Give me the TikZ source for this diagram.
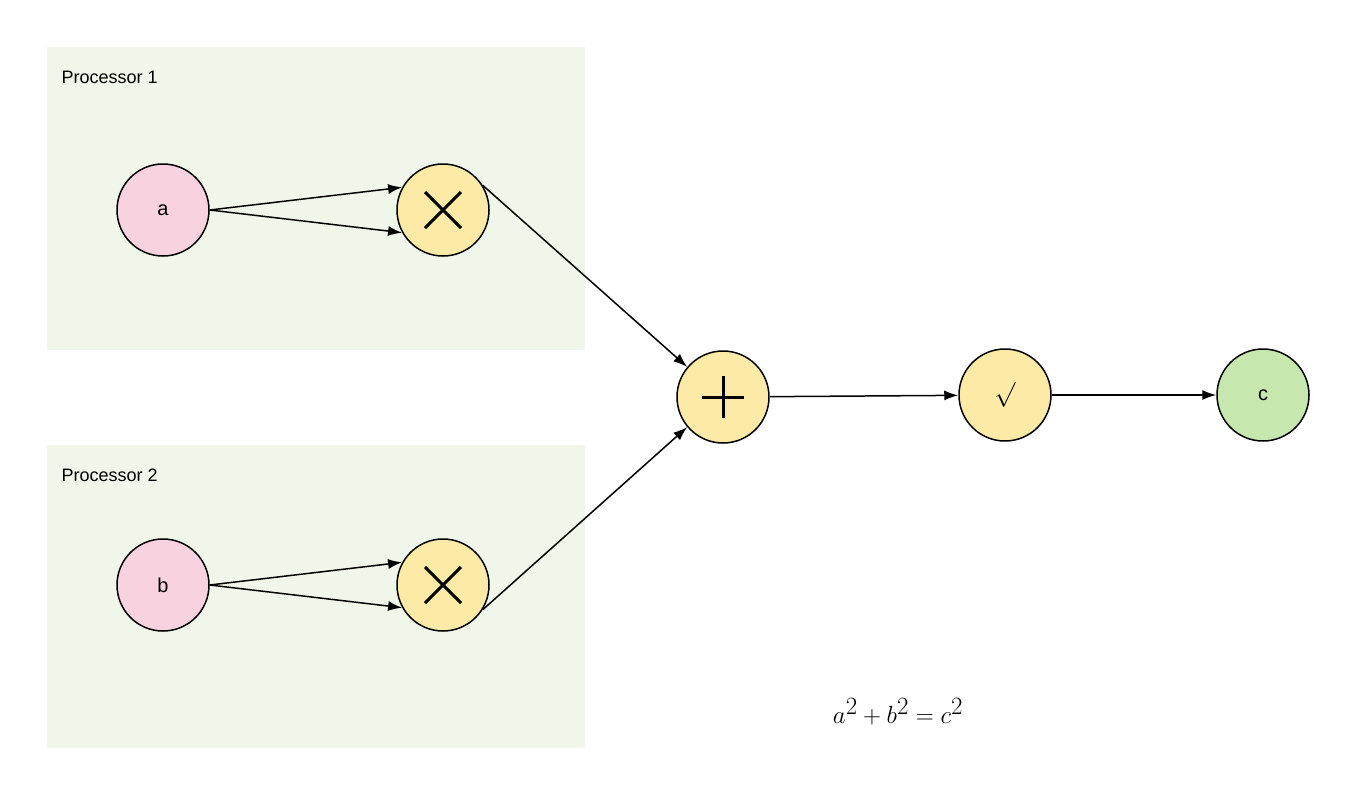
\documentclass[tikz,border=0pt]{standalone}
\usepackage{fontspec}
\setsansfont{Liberation Sans}
\usetikzlibrary{arrows.meta,calc}
\definecolor{procbg}{HTML}{F0F6E9}
\definecolor{inpink}{HTML}{F8D3DF}
\definecolor{opyel}{HTML}{FDEAA7}
\definecolor{outgrn}{HTML}{C6E8AE}
\begin{document}
\begin{tikzpicture}[x=1pt,y=-1pt,
  nd/.style={circle,draw=black,line width=1.5pt,minimum size=92pt,inner sep=0pt,font=\sffamily\fontsize{20}{24}\selectfont},
  inp/.style={nd,fill=inpink},
  op/.style={nd,fill=opyel,font=\fontsize{60}{60}\selectfont},
  outp/.style={nd,fill=outgrn},
  arr/.style={-{Latex[length=14pt,width=10pt]},line width=1.5pt},
  lbl/.style={anchor=west,font=\sffamily\fontsize{18}{22}\selectfont}]
\useasboundingbox (0,0) rectangle (1358,796);
\fill[procbg] (47,47) rectangle (585,350);
\fill[procbg] (47,445) rectangle (585,748);
\node[lbl] (p1) at (58,77) {Processor 1};
\node[lbl] (p2) at (58,475) {Processor 2};
\node[inp] (a) at (163,210) {a};
\node[inp] (b) at (163,585) {b};
\node[op] (m1) at (443,210) {};
\node[op] (m2) at (443,585) {};
\node[op] (plus) at (723,397) {};
\node[op,font=\fontsize{40}{40}\selectfont] (sq) at (1005,395) {$\surd$};
\node[outp] (c) at (1263,395) {c};
\foreach \n in {m1,m2}{
  \draw[line width=3pt] ($(\n)+(-18,-18)$) -- ($(\n)+(18,18)$) ($(\n)+(-18,18)$) -- ($(\n)+(18,-18)$);}
\draw[line width=3pt] ($(plus)+(-21,0)$) -- ($(plus)+(21,0)$) ($(plus)+(0,-21)$) -- ($(plus)+(0,21)$);
\draw[arr] (a.east) -- (m1.151);
\draw[arr] (a.east) -- (m1.209);
\draw[arr] (b.east) -- (m2.151);
\draw[arr] (b.east) -- (m2.209);
\draw[arr] (m1.32) -- (plus.140);
\draw[arr] (m2.-32) -- (plus.-140);
\draw[arr] (plus) -- (sq);
\draw[arr] (sq) -- (c);
\node (eq) at (898,712) {\fontsize{50}{60}\selectfont $a^2+b^2=c^2$};
\end{tikzpicture}
\end{document}
